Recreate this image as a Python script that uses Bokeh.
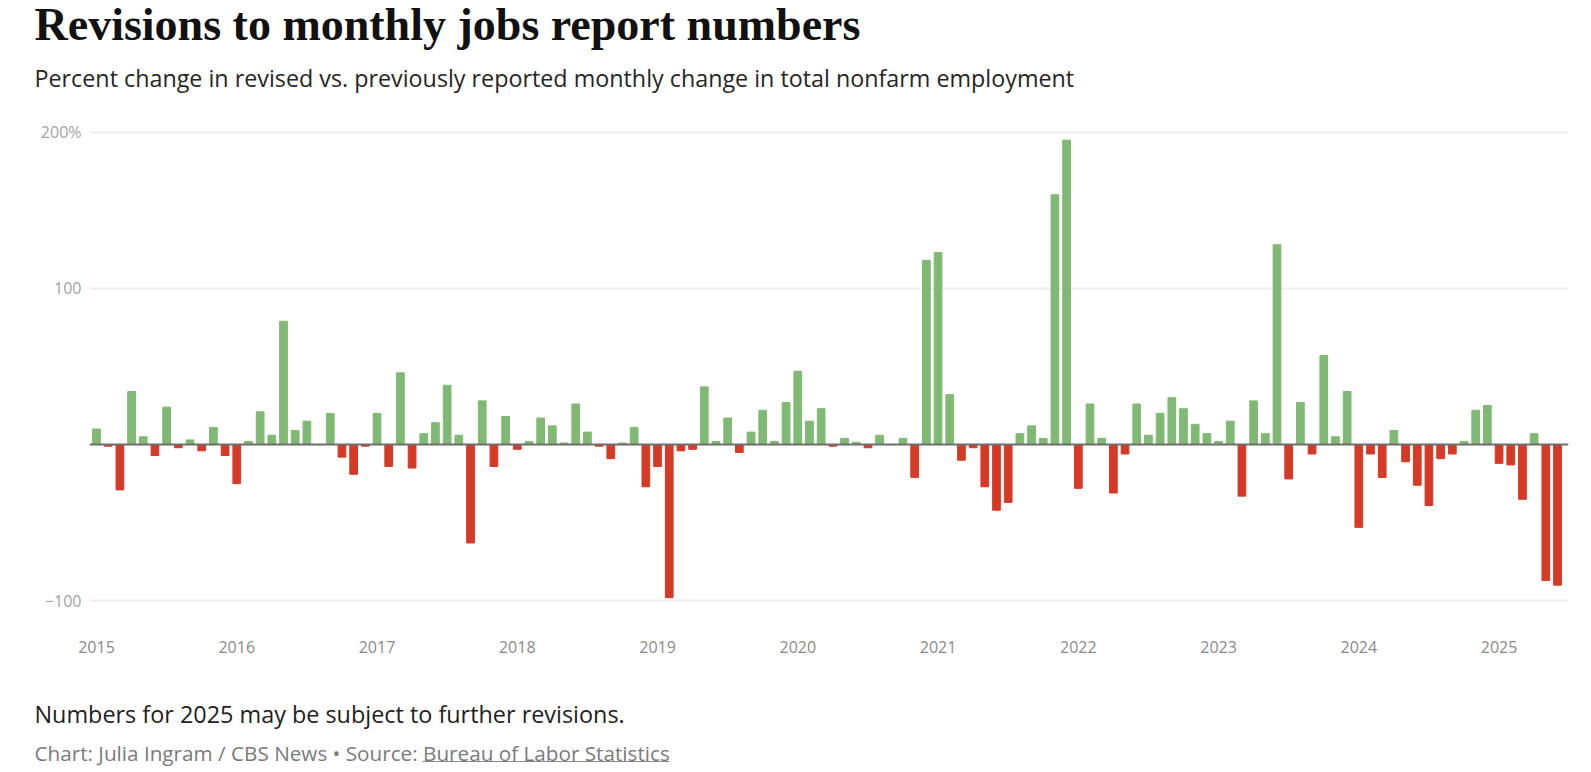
from bokeh.plotting import figure
from bokeh.models import ColumnDataSource, Range1d, FixedTicker, Span, Label
from bokeh.embed import file_html
from bokeh.resources import INLINE

# ---- data (percent change, revised vs previously reported) ----
years = [2015, 2016, 2017, 2018, 2019, 2020, 2021, 2022, 2023, 2024, 2025]
tick_labels = [str(y) for y in years]

rev_2015 = [10, -1, -29, 34, 5, -7, 24, -2, 3, -4, 11, -7]
rev_2016 = [-25, 2, 21, 6, 79, 9, 15, 0, 20, -8, -19, -1]
rev_2017 = [20, -14, 46, -15, 7, 14, 38, 6, -63, 28, -14, 18]
rev_2018 = [-3, 2, 17, 12, 1, 26, 8, -1, -9, 1, 11, -27]
rev_2019 = [-14, -98, -4, -3, 37, 2, 17, -5, 8, 22, 2, 27]
rev_2020 = [47, 15, 23, -1, 4, 1.5, -2, 6, 0, 4, -21, 118]
rev_2021 = [123, 32, -10, -2, -27, -42, -37, 7, 12, 4, 160, 195]
rev_2022 = [-28, 26, 4, -31, -6, 26, 6, 20, 30, 23, 13, 7]
rev_2023 = [2, 15, -33, 28, 7, 128, -22, 27, -6, 57, 5, 34]
rev_2024 = [-53, -6, -21, 9, -11, -26, -39, -9, -6, 2, 22, 25]
rev_2025 = [-12, -13, -35, 7, -87, -90]

y_ticks = [-100, 100, 200]
y_tick_labels = ["\u2212100", "100", "200%"]

title_text = "Revisions to monthly jobs report numbers"
subtitle_text = "Percent change in revised vs. previously reported monthly change in total nonfarm employment"
note_text = "Numbers for 2025 may be subject to further revisions."
credit_text = "Chart: Julia Ingram / CBS News \u2022 Source: Bureau of Labor Statistics"

GREEN = "#80b973"
RED = "#d63a26"
SANS = "Open Sans"
W = 1575

all_years = [rev_2015, rev_2016, rev_2017, rev_2018, rev_2019, rev_2020,
             rev_2021, rev_2022, rev_2023, rev_2024, rev_2025]
xs, vals = [], []
for yi, arr in enumerate(all_years):
    for m, v in enumerate(arr):
        xs.append(years[yi] + m / 12.0)
        vals.append(v)
colors = [GREEN if v >= 0 else RED for v in vals]
src = ColumnDataSource(dict(x=xs, top=vals, color=colors))


def text_panel(height):
    # frame covers the whole canvas; data units equal pixels
    f = figure(width=W, height=height, output_backend="svg", toolbar_location=None,
               x_range=Range1d(0, W), y_range=Range1d(0, height),
               x_axis_location=None, y_axis_location=None,
               min_border_left=0, min_border_right=0,
               min_border_top=0, min_border_bottom=0)
    f.outline_line_color = None
    f.xgrid.visible = False
    f.ygrid.visible = False
    return f


# ---- header ----
head = text_panel(100)
head.add_layout(Label(x=34, y=76, x_units="screen", y_units="screen", text=title_text,
                      text_font="Liberation Serif", text_font_style="bold",
                      text_font_size="46px", text_color="#111111",
                      text_baseline="alphabetic"))
head.add_layout(Label(x=34, y=23, x_units="screen", y_units="screen", text=subtitle_text,
                      text_font=SANS, text_font_size="23.3px", text_color="#262626",
                      text_baseline="alphabetic"))

# ---- main chart ----
p = figure(width=W, height=580, output_backend="svg", toolbar_location=None,
           x_range=Range1d(2015 - 0.6 / 12, 2015 + 125.94 / 12),
           y_range=Range1d(-112, 205),
           min_border_left=89, min_border_right=7,
           min_border_top=24, min_border_bottom=61)
p.outline_line_color = None

p.vbar(x="x", top="top", bottom=0, width=0.66 / 12, color="color", source=src)
p.add_layout(Span(location=0, dimension="width", line_color="#6e6e6e", line_width=2))

p.xaxis.ticker = FixedTicker(ticks=years)
p.xaxis.major_label_overrides = {y: s for y, s in zip(years, tick_labels)}
p.yaxis.ticker = FixedTicker(ticks=y_ticks)
p.yaxis.major_label_overrides = {t: s for t, s in zip(y_ticks, y_tick_labels)}
for ax in (p.xaxis, p.yaxis):
    ax.axis_line_color = None
    ax.major_tick_line_color = None
    ax.minor_tick_line_color = None
    ax.major_tick_out = 0
    ax.major_tick_in = 0
    ax.minor_tick_out = 0
    ax.minor_tick_in = 0
    ax.major_label_text_font = SANS
    ax.major_label_text_font_size = "16px"
p.xaxis.major_label_text_color = "#8a8a8a"
p.yaxis.major_label_text_color = "#a3a3a3"
p.xaxis.major_label_standoff = 21
p.yaxis.major_label_standoff = 8

p.xgrid.grid_line_color = None
p.ygrid.ticker = FixedTicker(ticks=y_ticks)
p.ygrid.grid_line_color = "#ededed"
p.ygrid.grid_line_width = 2

# ---- footer ----
foot = text_panel(90)
foot.add_layout(Label(x=34, y=57, x_units="screen", y_units="screen", text=note_text,
                      text_font=SANS, text_font_size="23.4px", text_color="#222222",
                      text_baseline="alphabetic"))
foot.add_layout(Label(x=34, y=18, x_units="screen", y_units="screen", text=credit_text,
                      text_font=SANS, text_font_size="20.7px", text_color="#7a7a7a",
                      text_baseline="alphabetic"))
# link underline beneath "Bureau of Labor Statistics"
foot.segment(x0=[422], y0=[9], x1=[669], y1=[9], line_color="#8a8a8a", line_width=1)

open("out.html", "w").write(file_html([head, p, foot], INLINE))
